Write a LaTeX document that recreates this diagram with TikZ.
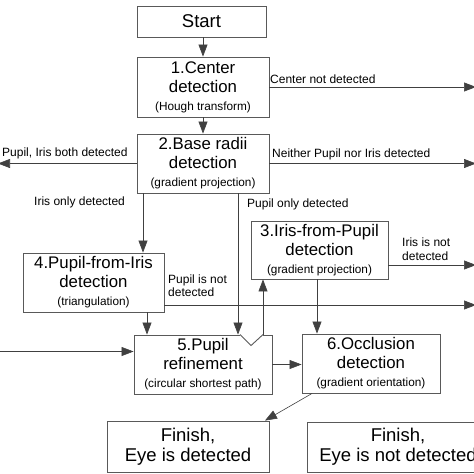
\documentclass[tikz,border=0pt]{standalone}
\usepackage{fontspec}
\setmainfont{Liberation Sans}
\usetikzlibrary{arrows.meta}
\newcommand{\how}[1]{{\fontsize{11.8}{14}\selectfont #1}}

\begin{document}
\begin{tikzpicture}[x=1pt, y=-1pt, >={Triangle[length=12pt,width=9pt]},
  frame/.style={draw=black!65, line width=0.9pt, align=center, inner sep=0pt},
  box/.style={frame, font=\fontsize{16.8}{19}\selectfont,
    execute at begin node={\rule{0pt}{28pt}}},
  endbox/.style={frame, font=\fontsize{18.5}{20}\selectfont},
  lbl/.style={inner sep=0pt, anchor=base west, align=left,
    font=\fontsize{12}{13.4}\selectfont},
  link/.style={->, draw=black!75, line width=0.6pt}]
\useasboundingbox (0,0) rectangle (474,474);
%edges of the page
\coordinate (rim) at (476,0);
\coordinate (lim) at (-2,0);
%steps
\node[endbox, minimum width=129pt, minimum height=31pt] (start) at (201.5,21.5) {Start};
\node[box, minimum width=132pt, minimum height=60pt] (center) at (203,87)
  {1.Center\\detection\\[-1pt]\how{(Hough transform)}};
\node[box, minimum width=132pt, minimum height=59pt] (radii) at (203,163.5)
  {2.Base radii\\detection\\[-1pt]\how{(gradient projection)}};
\node[box, minimum width=137pt, minimum height=58pt] (irisfp) at (319.5,250)
  {3.Iris-from-Pupil\\detection\\[-1pt]\how{(gradient projection)}};
\node[box, minimum width=141pt, minimum height=59pt] (pupilfi) at (93.5,282.5)
  {4.Pupil-from-Iris\\detection\\[-1pt]\how{(triangulation)}};
\node[box, minimum width=138pt, minimum height=59pt] (refine) at (203,364.5)
  {5.Pupil\\refinement\\[-1pt]\how{(circular shortest path)}};
\node[box, minimum width=138pt, minimum height=59pt] (occl) at (371,363.5)
  {6.Occlusion\\detection\\[-1pt]\how{(gradient orientation)}};
\node[endbox, minimum width=162pt, minimum height=51pt] (found) at (188,446.5)
  {Finish,\\Eye is detected};
\node[endbox, minimum width=182pt, minimum height=50pt] (lost) at (398,447)
  {Finish,\\Eye is not detected};
%notch in the top of step 5
\fill[white] ([xshift=37pt,yshift=-1.5pt]refine.north) rectangle ([xshift=60pt,yshift=1.5pt]refine.north);
\draw[draw=black!65, line width=0.9pt] ([xshift=37pt]refine.north) -- ++(11,11) -- ([xshift=60pt]refine.north);
%main line
\draw[link] (start.south -| center.north) -- (center.north);
\draw[link] (center.south) -- (radii.north);
\draw[link] (center.east) -- (center.east -| rim);
\draw[link] (radii.west) -- (radii.west -| lim);
\draw[link] (radii.east) -- (radii.east -| rim);
%one circle only
\coordinate (irisdrop) at ([xshift=-60pt]radii.south);
\draw[link] (irisdrop) -- (irisdrop |- pupilfi.north);
\coordinate (pupildrop) at ([xshift=35pt]radii.south);
\draw[link] (pupildrop) -- (pupildrop |- refine.north);
\coordinate (irisout) at ([yshift=-15pt]irisfp.east);
\draw[link] (irisout) -- (irisout -| rim);
\coordinate (pupilout) at ([yshift=-22.5pt]pupilfi.east);
\draw[link] (pupilout) -- (pupilout -| rim);
\coordinate (backup) at ([xshift=60pt]refine.north);
\draw[link] (backup) -- (backup |- irisfp.south);
\coordinate (pupilin) at ([xshift=53.5pt]pupilfi.south);
\draw[link] (pupilin) -- (pupilin |- refine.north);
\coordinate (sidein) at ([yshift=13pt]refine.west);
\draw[link] (sidein -| lim) -- (sidein);
%refinement and occlusion
\draw[link] (refine.east) -- (refine.east -| occl.west);
\coordinate (occlin) at ([xshift=-2.5pt]irisfp.south);
\draw[link] (occlin) -- (occlin |- occl.north);
\draw[link] ([xshift=-59pt]occl.south) -- ([xshift=77pt]found.north);
%labels
\node[lbl] (lcenter) at (270,83.5) {Center not detected};
\node[lbl] (lboth) at (2,156) {Pupil, Iris both detected};
\node[lbl] (lneither) at (272,157.3) {Neither Pupil nor Iris detected};
\node[lbl] (lirisonly) at (34,205) {Iris only detected};
\node[lbl] (lpupilonly) at (247,207) {Pupil only detected};
\node[lbl, anchor=north west] (lirisnot) at (402,238) {Iris is not\\detected};
\node[lbl, anchor=north west] (lpupilnot) at (168,274.6) {Pupil is not\\detected};
\end{tikzpicture}
\end{document}
